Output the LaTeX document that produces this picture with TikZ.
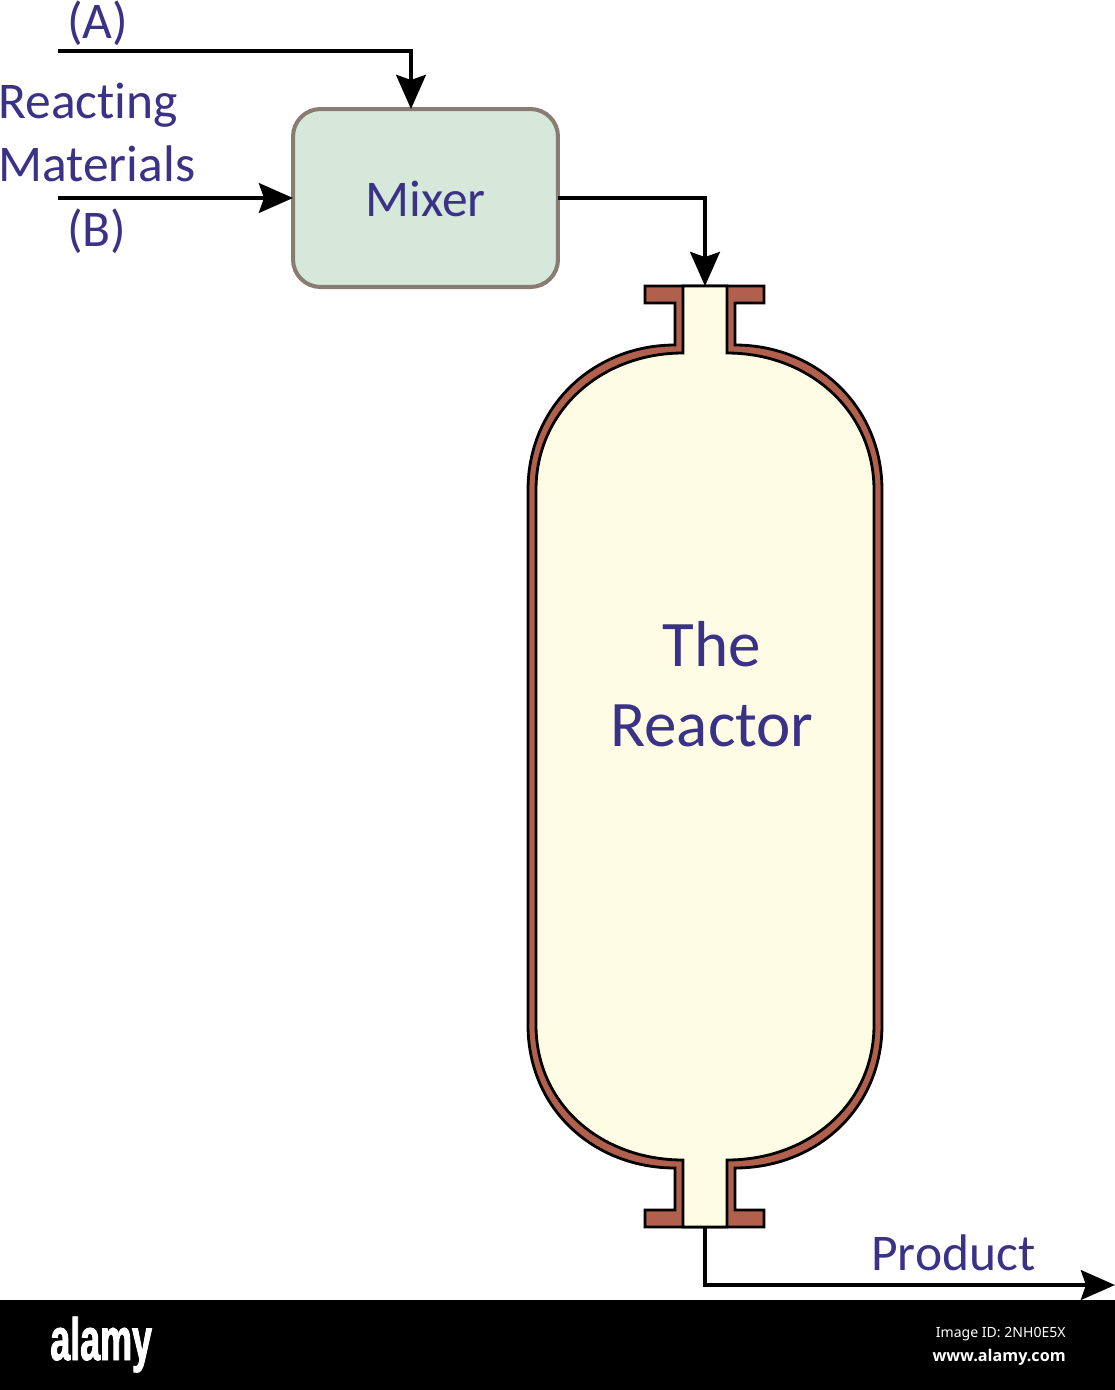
\documentclass[tikz,border=0pt]{standalone}
\usepackage{fontspec}
\setmainfont[Ligatures=NoCommon]{Carlito}
\newfontfamily\footfont{Noto Sans}
\newfontfamily\footboldfont{Open Sans}
\newfontfamily\logofont[FakeStretch=0.6,FakeBold=1.5]{Liberation Sans}
\usetikzlibrary{arrows.meta,positioning}
\definecolor{MixerFill}{HTML}{D5E8DA}
\definecolor{MixerEdge}{HTML}{897C72}
\definecolor{WallBrown}{HTML}{B0604C}
\definecolor{VesselCream}{HTML}{FEFCE5}
\definecolor{TextBlue}{HTML}{3A3287}

\begin{document}
\begin{tikzpicture}[x=0.02cm,y=-0.02cm,
  tag/.style={text=TextBlue,font=\fontsize{29.3}{36}\selectfont,inner sep=0pt,anchor=base west},
  unit/.style={draw=MixerEdge,fill=MixerFill,line width=2.3pt,rounded corners=5.5mm,minimum width=5.3cm,minimum height=3.56cm,outer sep=0pt,text=TextBlue,font=\fontsize{29.3}{36}\selectfont,inner sep=0pt,text height=21.5pt},
  wall/.style={draw=black,line width=1.6pt,line join=miter},
  arrow/.style={-{Stealth[length=6.8mm,width=5.9mm,inset=1mm]},line width=2.7pt,color=black},
  footer/.style={text=white,inner sep=0pt,anchor=base east}
]
\useasboundingbox (0,0) rectangle (1115,1390);
\fill[white] (0,0) rectangle (1115,1390);
% vessel
\node[minimum width=7.08cm,minimum height=18.82cm,inner sep=0pt,outer sep=0pt] (reactor) at (705,756.5) {};
\draw[wall,fill=WallBrown] (645,286) -- (764,286) -- (764,303) -- (735,303) -- (735,345)
  .. controls (816,345) and (882,406) .. (882,490) -- (882,1025)
  .. controls (882,1109) and (816,1168) .. (735,1168) -- (735,1210) -- (764,1210) -- (764,1227)
  -- (645,1227) -- (645,1210) -- (675,1210) -- (675,1168)
  .. controls (594,1168) and (528,1109) .. (528,1025) -- (528,490)
  .. controls (528,406) and (594,345) .. (675,345) -- (675,303) -- (645,303) -- cycle;
\draw[wall,fill=VesselCream] (683,286) -- (727,286) -- (727,353)
  .. controls (808,353) and (874,410) .. (874,490) -- (874,1025)
  .. controls (874,1105) and (808,1160) .. (727,1160) -- (727,1227) -- (683,1227) -- (683,1160)
  .. controls (602,1160) and (536,1105) .. (536,1025) -- (536,490)
  .. controls (536,410) and (602,353) .. (683,353) -- cycle;
\node[text=TextBlue,font=\fontsize{37}{45.5}\selectfont,align=center,inner sep=0pt] (reactortext) at (712,684) {The\\Reactor};
% mixer and feeds
\node[unit] (mixer) at (425.5,198) {Mixer};
\coordinate (feedA) at (58,51);
\coordinate (feedB) at (58,198);
\coordinate (mixertop) at (411,109);
\coordinate (productend) at (1115,1285);
\node[tag] (labelA) at (67,38) {(A)};
\node[tag] (reacting) at (-2,118) {Reacting};
\node[tag] (materials) at (-2,181) {Materials};
\node[tag] (labelB) at (67,246) {(B)};
\node[tag] (product) at (871,1270) {Product};
\draw[arrow] (feedA) -| (mixertop);
\draw[arrow] (feedB) -- (mixer.west);
\draw[arrow] (mixer.east) -| (reactor.north);
\draw[arrow] (reactor.south) |- (productend);
% bottom strip
\fill[black] (0,1300) rectangle (1115,1390);
\node[footer,anchor=base west,font=\logofont\bfseries\fontsize{34}{34}\selectfont] (logo) at (50,1360) {alamy};
\node[footer,font=\footfont\fontsize{8}{10}\selectfont] (imageid) at (1066,1337) {Image ID: 2NH0E5X};
\node[footer,font=\footboldfont\bfseries\fontsize{9.2}{11}\selectfont] (website) at (1066,1361) {www.alamy.com};
\end{tikzpicture}
\end{document}
